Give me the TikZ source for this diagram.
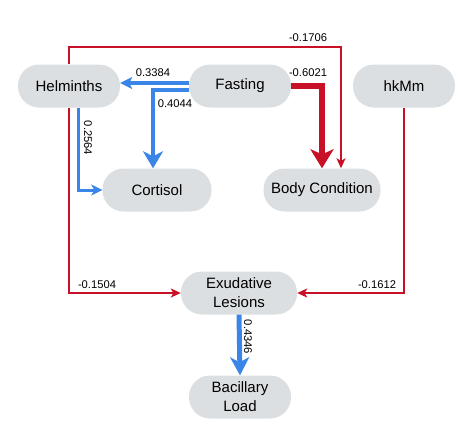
\documentclass[tikz,border=0pt]{standalone}
\usepackage{fontspec}
\setmainfont{Liberation Sans}
\usetikzlibrary{arrows.meta}
\definecolor{pathblue}{RGB}{58,134,232}
\definecolor{pathred}{RGB}{200,16,38}
\definecolor{boxgray}{RGB}{220,223,225}
\tikzset{
  var/.style={fill=boxgray, rounded corners=21pt, minimum width=102pt, minimum height=43pt, align=center, inner sep=2pt, font=\fontsize{15}{19}\selectfont},
  coef/.style={font=\fontsize{11.2}{13}\selectfont, inner sep=1pt},
  pos/.style={draw=pathblue, line width=#1},
  negs/.style={draw=pathred, line width=1.8pt, -{Stealth[length=10pt, width=9pt, inset=2.5pt]}}
}
\begin{document}
\begin{tikzpicture}[x=1pt, y=-1pt]
\useasboundingbox (0,0) rectangle (474,440);
\node[var] (helm) at (69,86) {Helminths};
\node[var] (fast) at (240,86) {Fasting};
\node[var] (hkmm) at (404,86) {hkMm};
\node[var, minimum width=109pt] (cort) at (157,190) {Cortisol};
\node[var, minimum width=117pt] (body) at (322,190) {Body Condition};
\node[var, minimum width=116pt] (exud) at (239,293) {Exudative\\Lesions};
\node[var] (bac) at (240,397) {Bacillary\\Load};
% positive paths
\draw[pos=3.5pt, -{Stealth[length=12pt, width=12pt, inset=3pt]}] ([yshift=3pt]fast.west) -- ([yshift=3pt]fast.west -| helm.east);
\draw[pos=4.5pt, -{Stealth[length=17pt, width=20pt, inset=5pt]}] ([yshift=-4pt]fast.west) -| ([xshift=-4pt]cort.north);
\draw[pos=3pt, -{Stealth[length=11pt, width=11pt, inset=3pt]}] ([xshift=9pt]helm.south) |- (cort.west);
\draw[pos=5pt, -{Stealth[length=18pt, width=19pt, inset=5pt]}] (exud.south) -- (bac.north);
% negative paths
\draw[draw=pathred, line width=6.5pt, -{Stealth[length=19pt, width=23pt, inset=5pt]}] (fast.east) -| (body.north);
\draw[negs] (helm.north) -- ++(0,-17) -| ([xshift=19pt]body.north);
\draw[negs] (helm.south) |- (exud.west);
\draw[negs] (hkmm.south) |- (exud.east);
% coefficients
\node[coef] (c1) at (308,38) {-0.1706};
\node[coef] (c2) at (153,73) {0.3384};
\node[coef] (c3) at (175,104) {0.4044};
\node[coef] (c4) at (308,73) {-0.6021};
\node[coef, rotate=-90] (c5) at (88,138) {0.2564};
\node[coef] (c6) at (97,285) {-0.1504};
\node[coef] (c7) at (377,285) {-0.1612};
\node[coef, rotate=-90] (c8) at (248,337) {0.4346};
\end{tikzpicture}
\end{document}
